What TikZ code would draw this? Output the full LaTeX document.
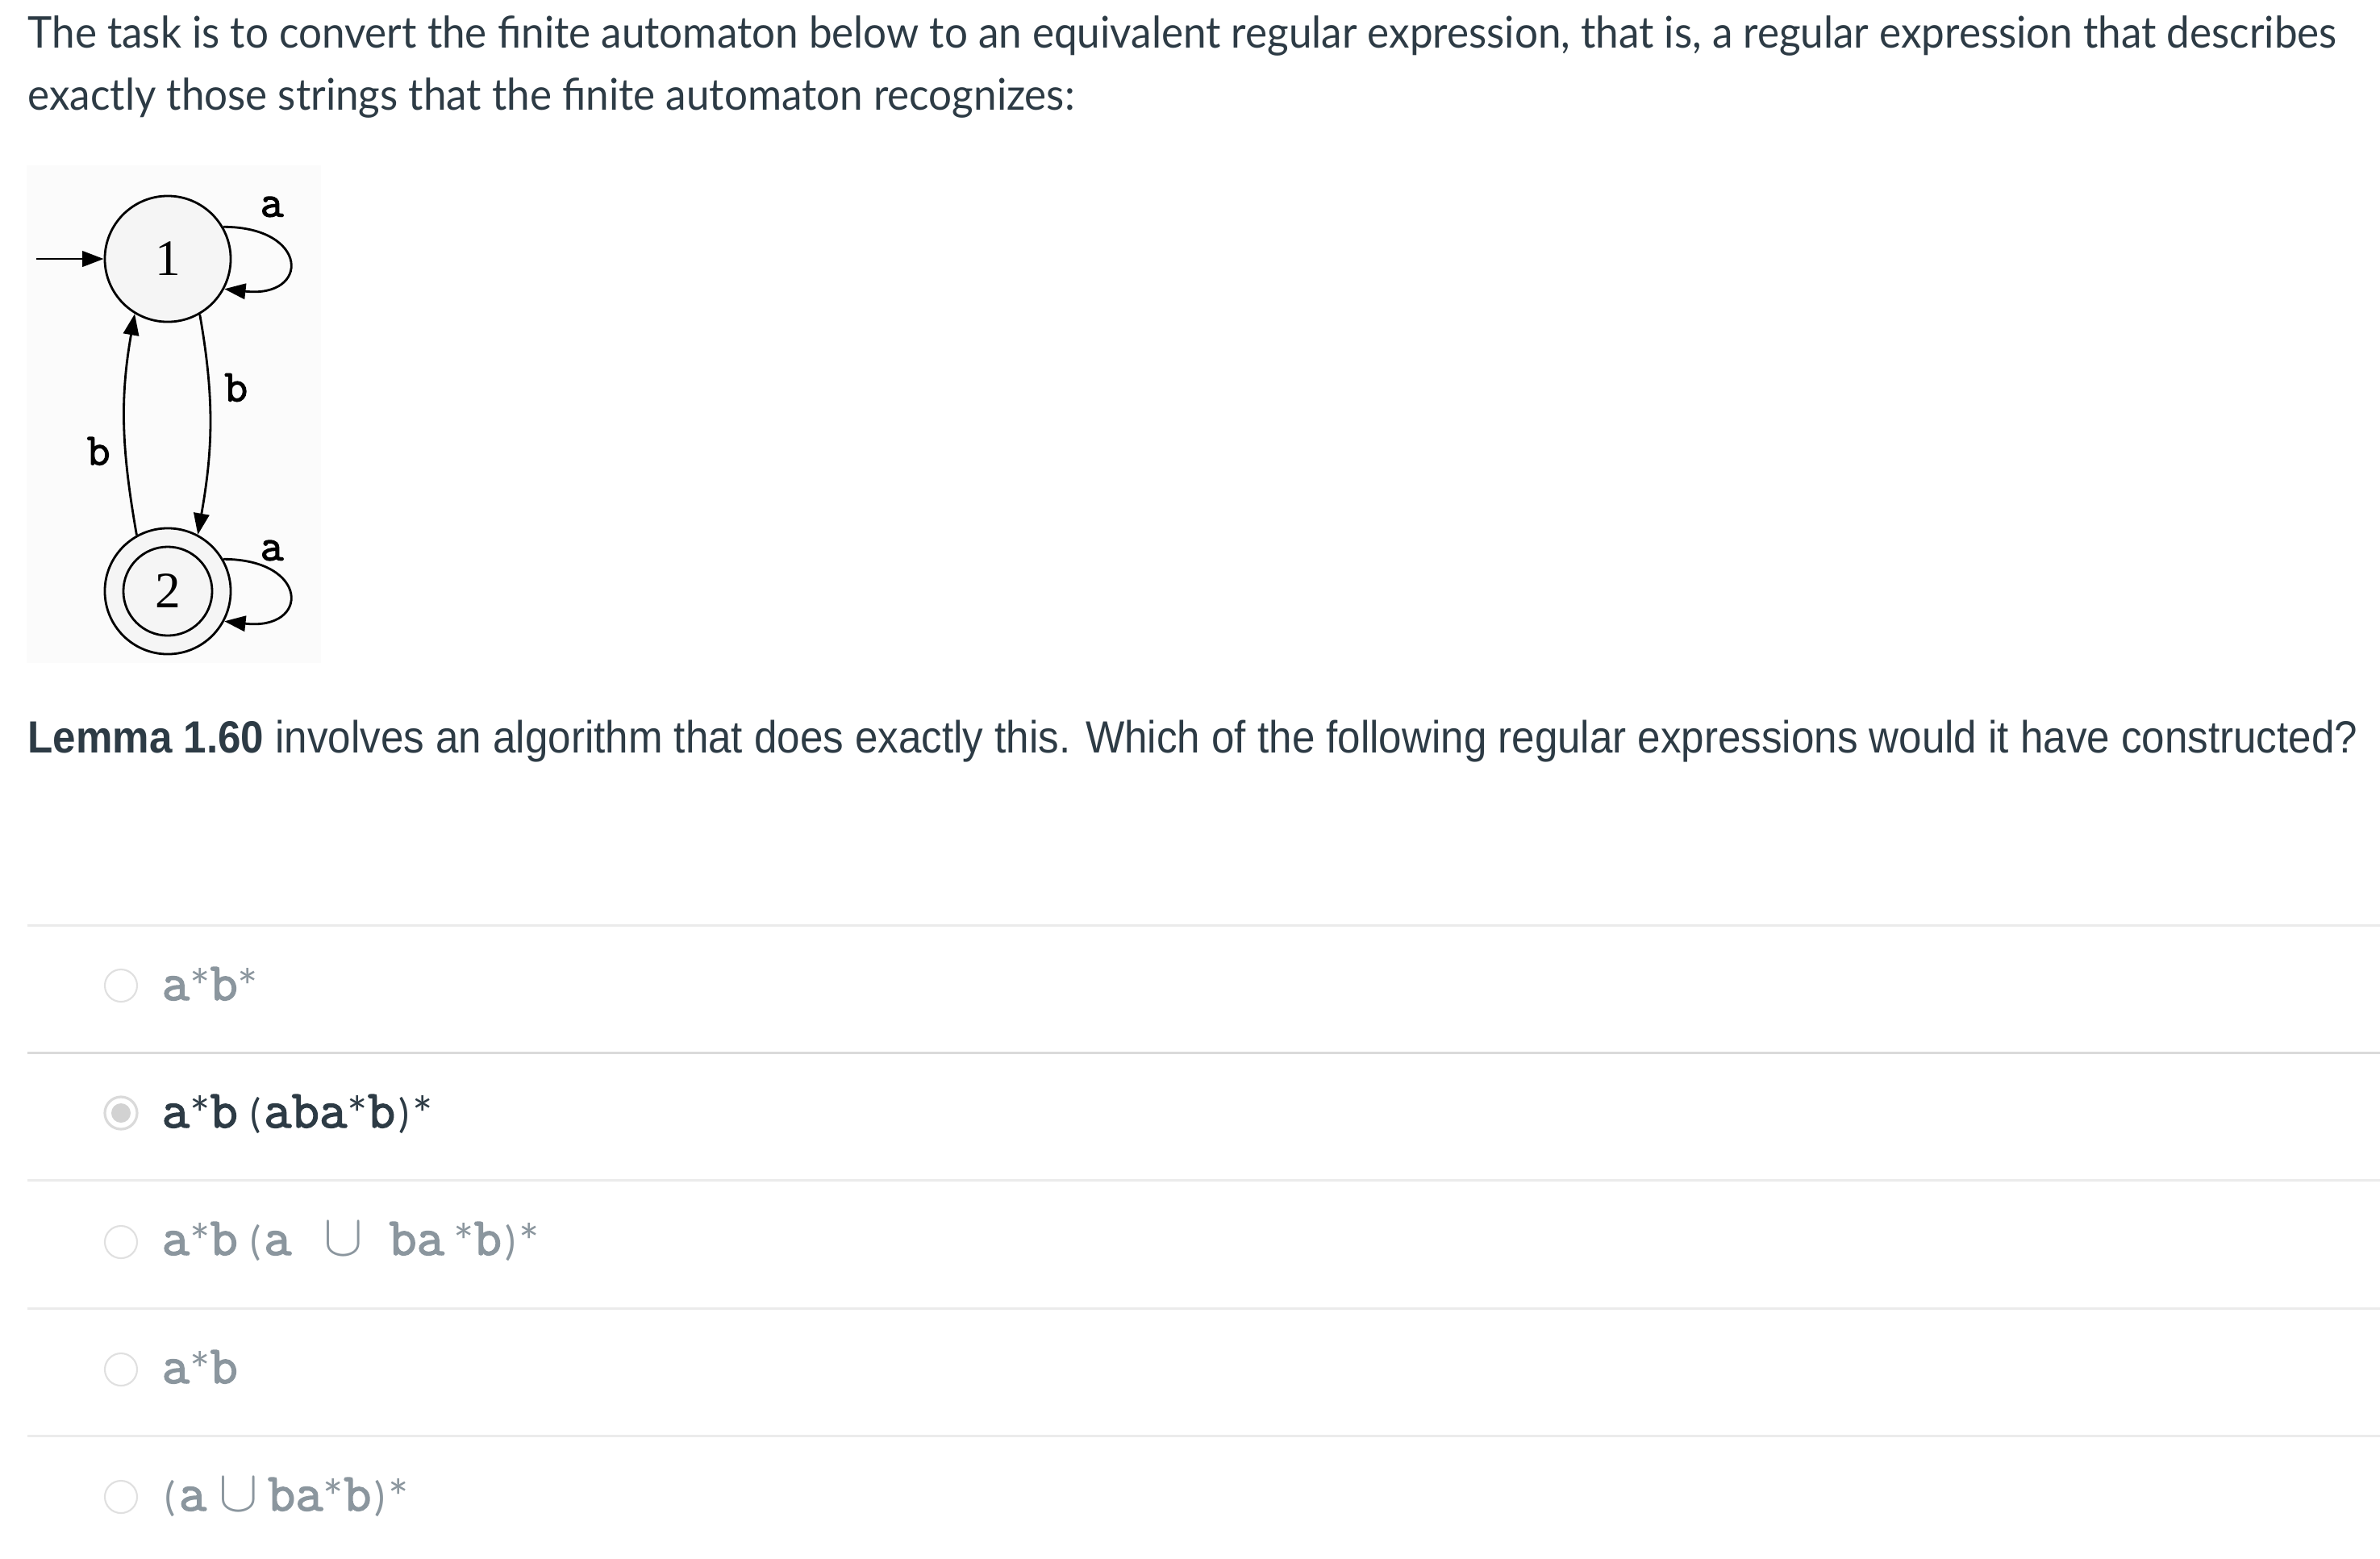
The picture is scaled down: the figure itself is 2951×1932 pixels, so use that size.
\documentclass[tikz,border=0pt]{standalone}
\usepackage{fontspec}
\usepackage{graphicx}
\setmainfont{Lato}
\newfontfamily\arialfont{Liberation Sans}
\newfontfamily\serifnum{Liberation Serif}
\newfontfamily\codefont[FakeBold=2.2]{Latin Modern Mono}
\usetikzlibrary{arrows.meta}

\definecolor{canvasink}{HTML}{2D3B45}
\definecolor{answergrey}{HTML}{8B969E}
\definecolor{rulelight}{HTML}{EBEBEB}
\definecolor{ruledark}{HTML}{DADADA}
\definecolor{radioline}{HTML}{E0E0E0}
\definecolor{radiodot}{HTML}{D2D2D2}
\definecolor{statefill}{HTML}{F5F5F5}
\definecolor{imagebg}{HTML}{FBFBFB}

% squeeze a line to a given width, keep its height
\newcommand{\fitline}[2]{\resizebox{#1}{\height}{#2}}
% regular expression pieces
\newcommand{\rx}[1]{{\codefont #1}}
\newcommand{\st}{\raisebox{-0.5mm}{\fontsize{17}{17}\selectfont *}}
\newcommand{\lp}{{\fontsize{14}{14}\selectfont\kern0.4mm(\kern0.4mm}}
\newcommand{\rp}{{\fontsize{14}{14}\selectfont\kern0.4mm)\kern0.4mm}}
\newcommand{\union}{{\fontsize{20.74}{21}\selectfont$\cup$}}

\tikzset{
  heading/.style={anchor=base west, inner sep=0pt, text=canvasink,
    font=\fontsize{15.4}{18}\selectfont},
  state/.style={circle, draw, line width=0.8pt, fill=statefill,
    minimum size=1.56cm, inner sep=0pt, font=\serifnum\fontsize{18}{18}\selectfont},
  trans/.style={draw, line width=0.8pt, -{Triangle[length=7.5pt,width=5.5pt]}},
  sym/.style={inner sep=0pt, font=\codefont\fontsize{16}{16}\selectfont},
  radio/.style={circle, minimum size=0.4cm, inner sep=0pt, draw=radioline,
    line width=0.6pt, fill=white},
  answer/.style={anchor=base west, inner sep=0pt, text=answergrey,
    font=\fontsize{19}{21}\selectfont},
}

\begin{document}
\begin{tikzpicture}[x=0.01cm, y=-0.01cm]
  \useasboundingbox (0,0) rectangle (2951,1932);
  \fill[white] (0,0) rectangle (2951,1932);

  % question text
  \node [heading] (intro1) at (34,59) {\fitline{28.61cm}{The task is to convert the finite automaton below to an equivalent regular expression, that is, a regular expression that describes}};
  \node [heading] (intro2) at (34,136) {\fitline{12.97cm}{exactly those strings that the finite automaton recognizes:}};

  % automaton picture
  \fill [imagebg] (33,205) rectangle (398,822);
  \node [state] (one) at (208,321) {1};
  \node [state] (two) at (208,733) {2};
  \node [circle, draw, line width=0.8pt, minimum size=1.10cm, inner sep=0pt] (two-ring) at (two) {};
  \coordinate (start) at (45,321);

  \draw [trans] (start) -- (one);
  \draw [trans] (one.-60) to [out=-80, in=80]
    node [sym, pos=0.32, right=5pt] (lbl-b12) {b} (two.62);
  \draw [trans] (two.119) to [out=100, in=-100]
    node [sym, pos=0.37, left=5pt] (lbl-b21) {b} (one.-121);
  \draw [trans] (one.30) .. controls +(107,0) and +(107,12) ..
    node [sym, pos=0.25, above=7pt] (lbl-a1) {a} (one.-28);
  \draw [trans] (two.30) .. controls +(107,0) and +(107,12) ..
    node [sym, pos=0.25, above=3pt] (lbl-a2) {a} (two.-28);

  % the question
  \node [heading, font=\arialfont\fontsize{15.9}{18}\selectfont] (lemma) at (34,933)
    {\fitline{28.87cm}{\textbf{Lemma 1.60} involves an algorithm that does exactly this. Which of the following regular expressions would it have constructed?}};

  % answer rows
  \foreach \y in {1147,1463,1622,1780}
    \draw [rulelight, line width=0.85pt] (34,\y) -- (2951,\y);
  \draw [ruledark, line width=0.85pt] (34,1305) -- (2951,1305);

  \node [radio] (rad1) at (150,1222) {};
  \node [answer] (opt1) at (200,1240) {\rx{a}\st\rx{b}\st};

  \node [radio, draw=ruledark, line width=0.9pt] (rad2) at (150,1380) {};
  \node [circle, fill=radiodot, minimum size=0.24cm, inner sep=0pt] (rad2-dot) at (rad2) {};
  \node [answer, text=canvasink] (opt2) at (200,1398)
    {\rx{a}\st\rx{b}\,\lp\rx{aba}\st\rx{b}\rp\st};

  \node [radio] (rad3) at (150,1540) {};
  \node [answer] (opt3) at (200,1556)
    {\rx{a}\st\rx{b}\,\lp\rx{a}\hspace{4mm}\union\hspace{3.2mm}\rx{ba}\,\st\rx{b}\rp\st};

  \node [radio] (rad4) at (150,1698) {};
  \node [answer] (opt4) at (200,1715) {\rx{a}\st\rx{b}};

  \node [radio] (rad5) at (150,1856) {};
  \node [answer] (opt5) at (200,1873)
    {\lp\rx{a}\hspace{1.5mm}\union\hspace{1.2mm}\rx{ba}\st\rx{b}\rp\st};
\end{tikzpicture}
\end{document}
